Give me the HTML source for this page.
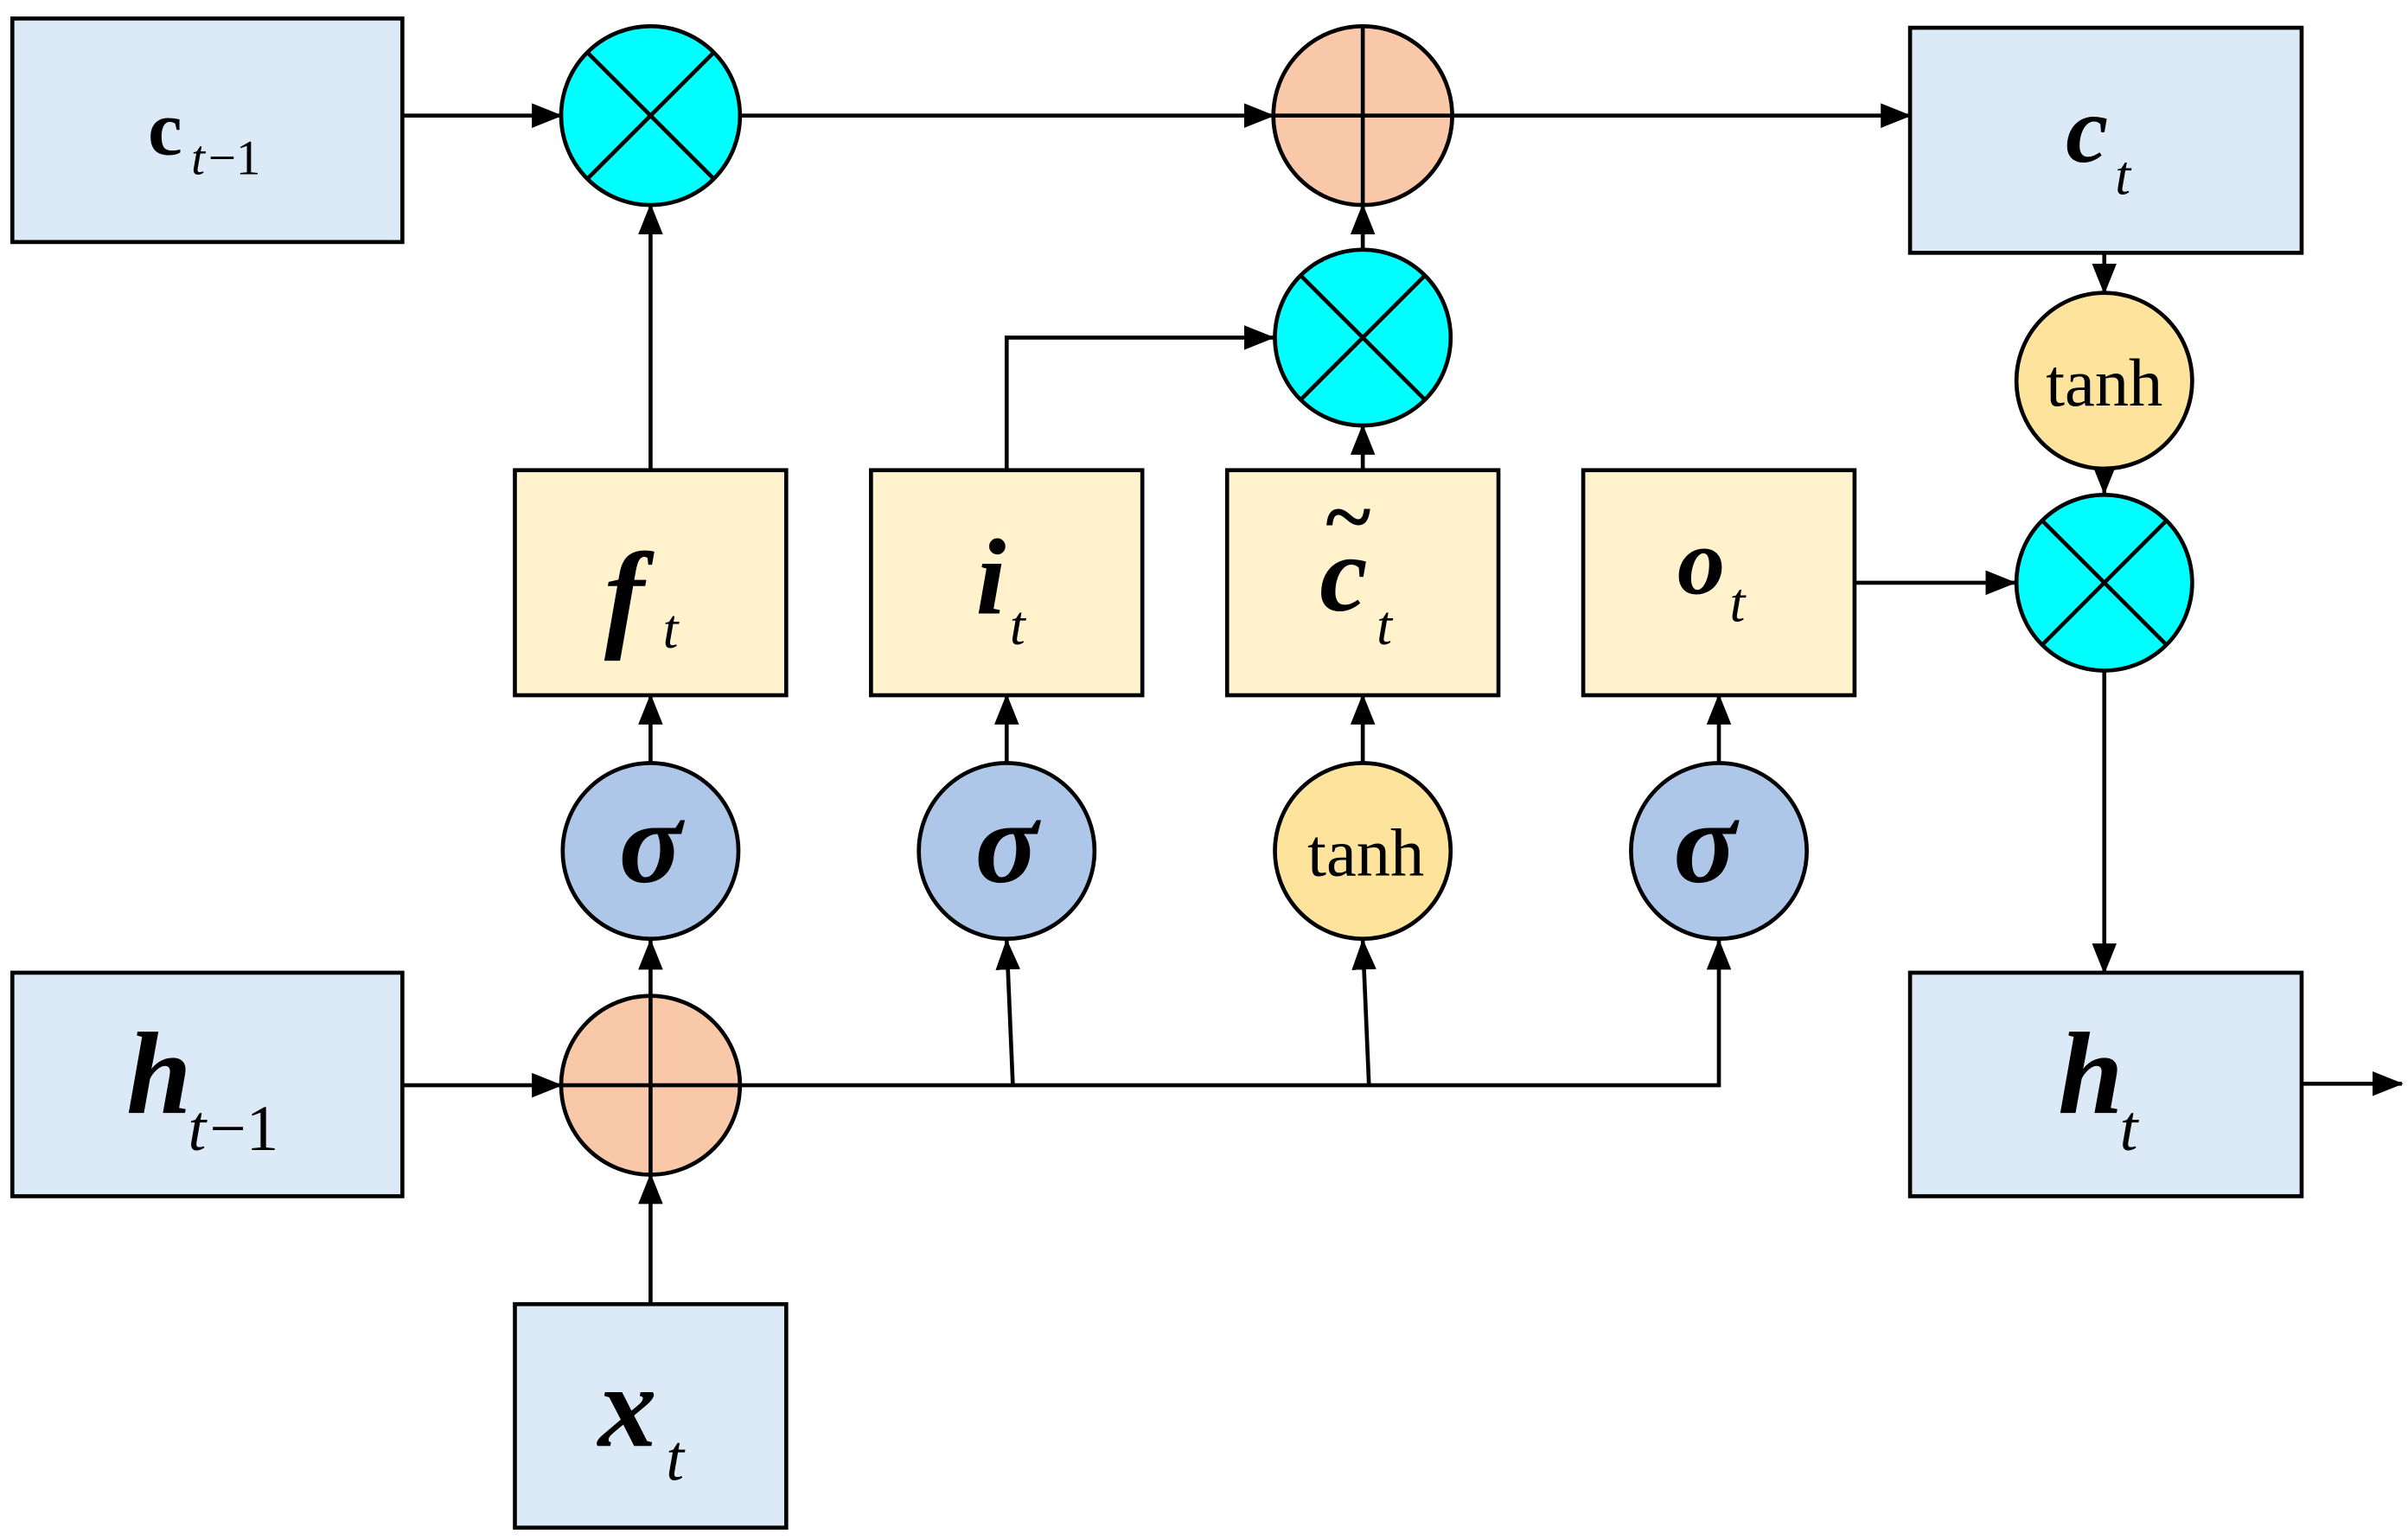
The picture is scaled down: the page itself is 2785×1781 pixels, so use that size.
<!DOCTYPE html>
<html><head><meta charset="utf-8"><style>
html,body{margin:0;padding:0;background:#fff;}
svg{display:block;}
text{font-family:"Liberation Serif",serif;fill:#000;}
</style></head><body>
<svg width="2785" height="1781" viewBox="0 0 1562 999" preserveAspectRatio="none" xmlns="http://www.w3.org/2000/svg">
<defs>
<marker id="a" markerWidth="20" markerHeight="16" refX="19" refY="8" orient="auto" markerUnits="userSpaceOnUse">
<path d="M0,0 L20,8 L0,16 Z" fill="#000"/></marker>
</defs>
<g stroke="#000" stroke-width="2.6" fill="none">
<line x1="261" y1="75" x2="364" y2="75" marker-end="url(#a)"/>
<line x1="480" y1="75" x2="826" y2="75" marker-end="url(#a)"/>
<line x1="942" y1="75" x2="1239" y2="75" marker-end="url(#a)"/>
<line x1="422" y1="305" x2="422" y2="133" marker-end="url(#a)"/>
<polyline points="653,305 653,219 826,219" marker-end="url(#a)"/>
<line x1="884" y1="305" x2="884" y2="276" marker-end="url(#a)"/>
<line x1="884" y1="162" x2="884" y2="133" marker-end="url(#a)"/>
<line x1="1365" y1="164" x2="1365" y2="190" marker-end="url(#a)"/>
<line x1="1365" y1="304" x2="1365" y2="320" marker-end="url(#a)"/>
<line x1="1203" y1="378" x2="1307" y2="378" marker-end="url(#a)"/>
<line x1="1365" y1="435" x2="1365" y2="631" marker-end="url(#a)"/>
<line x1="1493" y1="703" x2="1558" y2="703" marker-end="url(#a)"/>
<line x1="422" y1="494" x2="422" y2="451" marker-end="url(#a)"/>
<line x1="653" y1="494" x2="653" y2="451" marker-end="url(#a)"/>
<line x1="884" y1="494" x2="884" y2="451" marker-end="url(#a)"/>
<line x1="1115" y1="494" x2="1115" y2="451" marker-end="url(#a)"/>
<line x1="422" y1="646" x2="422" y2="610" marker-end="url(#a)"/>
<line x1="261" y1="704" x2="364" y2="704" marker-end="url(#a)"/>
<line x1="422" y1="846" x2="422" y2="762" marker-end="url(#a)"/>
<polyline points="480,704 1115,704 1115,610" marker-end="url(#a)"/>
<line x1="657" y1="704" x2="653" y2="610" marker-end="url(#a)"/>
<line x1="888" y1="704" x2="884" y2="610" marker-end="url(#a)"/>
<rect x="8" y="12" width="253" height="145" fill="#dbeaf6"/>
<rect x="1239" y="18" width="254" height="146" fill="#dbeaf6"/>
<rect x="8" y="631" width="253" height="145" fill="#dbeaf6"/>
<rect x="1239" y="631" width="254" height="145" fill="#dbeaf6"/>
<rect x="334" y="846" width="176" height="145" fill="#dbeaf6"/>
<rect x="334" y="305" width="176" height="146" fill="#fff2cc"/>
<rect x="565" y="305" width="176" height="146" fill="#fff2cc"/>
<rect x="796" y="305" width="176" height="146" fill="#fff2cc"/>
<rect x="1027" y="305" width="176" height="146" fill="#fff2cc"/>
<circle cx="422" cy="75" r="58" fill="#00ffff"/>
<path d="M381,34 L463,116 M463,34 L381,116"/>
<circle cx="884" cy="219" r="57" fill="#00ffff"/>
<path d="M844,179 L924,259 M924,179 L844,259"/>
<circle cx="1365" cy="378" r="57" fill="#00ffff"/>
<path d="M1325,338 L1405,418 M1405,338 L1325,418"/>
<circle cx="884" cy="75" r="58" fill="#f9c8a8"/>
<path d="M884,17 L884,133 M826,75 L942,75"/>
<circle cx="422" cy="704" r="58" fill="#f9c8a8"/>
<path d="M422,646 L422,762 M364,704 L480,704"/>
<circle cx="1365" cy="247" r="57" fill="#fde39b"/>
<circle cx="884" cy="552" r="57" fill="#fde39b"/>
<circle cx="422" cy="552" r="57" fill="#aec6e8"/>
<circle cx="653" cy="552" r="57" fill="#aec6e8"/>
<circle cx="1115" cy="552" r="57" fill="#aec6e8"/>
</g>
<text x="96" y="100" font-size="50" font-weight="bold">c</text>
<text x="124" y="113" font-size="32" font-style="italic">t</text><text x="135" y="113" font-size="32">−1</text>
<text x="1340" y="105" font-size="62" font-weight="bold" font-style="italic">c</text>
<text x="1372" y="126" font-size="36" font-style="italic">t</text>
<text x="392" y="412" font-size="78" font-weight="bold" font-style="italic">f</text>
<text x="430" y="420" font-size="36" font-style="italic">t</text>
<text x="633" y="398" font-size="70" font-weight="bold" font-style="italic">i</text>
<text x="655" y="418" font-size="36" font-style="italic">t</text>
<text x="856" y="396" font-size="70" font-weight="bold" font-style="italic">c</text>
<text x="860" y="354" font-size="56" font-weight="bold">~</text>
<text x="893" y="418" font-size="36" font-style="italic">t</text>
<text x="1088" y="385" font-size="62" font-weight="bold" font-style="italic">o</text>
<text x="1122" y="403" font-size="36" font-style="italic">t</text>
<text x="422" y="572" font-size="76" font-weight="bold" font-style="italic" text-anchor="middle">σ</text>
<text x="653" y="572" font-size="76" font-weight="bold" font-style="italic" text-anchor="middle">σ</text>
<text x="1106" y="572" font-size="76" font-weight="bold" font-style="italic" text-anchor="middle">σ</text>
<text x="886" y="568" font-size="44" text-anchor="middle">tanh</text>
<text x="1365" y="263" font-size="44" text-anchor="middle">tanh</text>
<text x="82" y="722" font-size="76" font-weight="bold" font-style="italic">h</text>
<text x="122" y="746" font-size="42" font-style="italic">t</text><text x="136" y="746" font-size="42">−1</text>
<text x="1335" y="722" font-size="76" font-weight="bold" font-style="italic">h</text>
<text x="1375" y="746" font-size="42" font-style="italic">t</text>
<text x="388" y="938" font-size="76" font-weight="bold" font-style="italic">x</text>
<text x="432" y="960" font-size="42" font-style="italic">t</text>
</svg>
</body></html>
